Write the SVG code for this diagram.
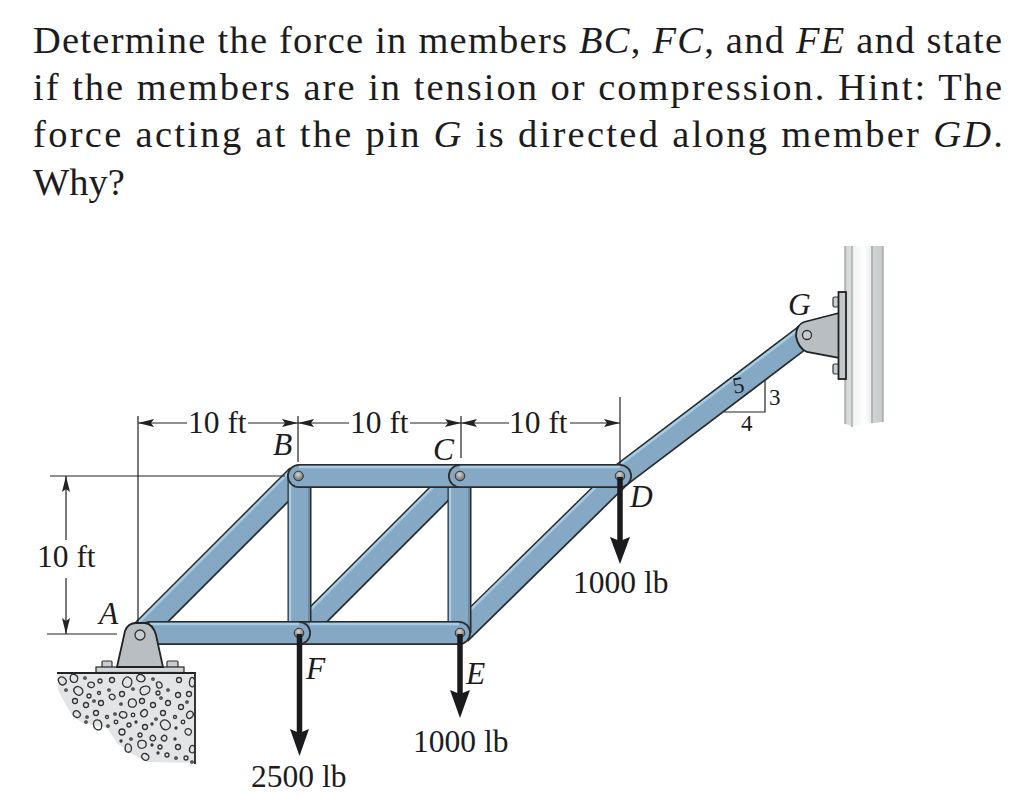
<svg xmlns="http://www.w3.org/2000/svg" width="1030" height="798" viewBox="0 0 1030 798">
<style>
text{font-family:"Liberation Serif","Times New Roman",serif;fill:#1c1c20}
.p{font-size:38.500px}
.l{font-size:31.500px}
.i{font-style:italic}
.n{font-size:23px}
.m{fill:none;stroke:#2b2b2d;stroke-width:24}
.b{fill:none;stroke:#85a9c4;stroke-width:20.5}
.h{fill:none;stroke:#a6cde6;stroke-width:2.5}
.s{fill:none;stroke:#6c8aa2;stroke-width:2}
.r{stroke-linecap:round}
.d{fill:none;stroke:#222;stroke-width:1.2}
.a{fill:#222}
.f{fill:none;stroke:#1b1b1d;stroke-width:5.5}
.k{fill:#1b1b1d}
.g{fill:#b9bec3;stroke:#222;stroke-width:1.8}
.w{fill:#c9cdd0;stroke:#333;stroke-width:1.2}
.pin{fill:url(#pg);stroke:#333;stroke-width:1}
.hole{fill:#c8ccd0;stroke:#333;stroke-width:1.3}
#blob{vector-effect:non-scaling-stroke}
</style>
<defs>
<radialGradient id="pg" cx="0.45" cy="0.35" r="0.7"><stop offset="0" stop-color="#d5d5d5"/><stop offset="1" stop-color="#5d5f62"/></radialGradient>
<linearGradient id="col" x1="0" x2="1" y1="0" y2="0">
<stop offset="0" stop-color="#cfd2d3"/><stop offset="0.18" stop-color="#dfe1e1"/><stop offset="0.2" stop-color="#f0f1f1"/><stop offset="0.5" stop-color="#fff"/><stop offset="0.68" stop-color="#eceded"/><stop offset="0.7" stop-color="#d2d5d6"/><stop offset="1" stop-color="#c6c9ca"/>
</linearGradient>
<marker id="ar" viewBox="0 0 16 8" refX="16" refY="4" markerWidth="16" markerHeight="8" markerUnits="userSpaceOnUse" orient="auto-start-reverse"><path d="M0 0L16 4L0 8L3 4Z" class="a"/></marker>
<path id="blob" vector-effect="non-scaling-stroke" d="M-0.9 -0.2C-0.8 -0.9 -0.1 -1.1 0.4 -0.9C1 -0.7 1.1 -0.1 0.8 0.5C0.5 1 0 0.9 -0.4 0.7C-0.8 0.5 -1 0.2 -0.9 -0.2Z"/>
</defs>

<g id="problem-text">
<text class="p" x="33" y="53" textLength="969" lengthAdjust="spacing">Determine the force in members <tspan class="i">BC</tspan>, <tspan class="i">FC</tspan>, and <tspan class="i">FE</tspan> and state</text>
<text class="p" x="33" y="100" textLength="969" lengthAdjust="spacing">if the members are in tension or compression. Hint: The</text>
<text class="p" x="33" y="147" textLength="970" lengthAdjust="spacing">force acting at the pin <tspan class="i">G</tspan> is directed along member <tspan class="i">GD</tspan>.</text>
<text class="p" x="33" y="195">Why?</text>
</g>

<g id="column">
<path d="M845 246H883V422Q864 424 852 427Q848 424 845 424Z" fill="url(#col)"/>
<path d="M845 246V424M852 246V427M872 246V423M883 246V422" fill="none" stroke="#9a9d9f" stroke-width="1.2"/>
</g>

<g id="ground">
<path d="M57 673H195V763L147 762L130 753L117 743L107 728L83 723L73 717L65 703L58 690Z" fill="#e3e4e5"/>
<path d="M57 673H195V764" fill="none" stroke="#222" stroke-width="1.8"/>
<g fill="none" stroke="#333" stroke-width="1.3">
<use href="#blob" transform="translate(62 681) rotate(40) scale(4.500 4)"/><use href="#blob" transform="translate(74 678) rotate(170) scale(4 4.500)"/><use href="#blob" transform="translate(91 685) scale(3.500 3)"/><use href="#blob" transform="translate(127 682) rotate(100) scale(5.500 5)"/><use href="#blob" transform="translate(141 678) rotate(200) scale(4.500 4)"/><use href="#blob" transform="translate(159 685) rotate(60) scale(3.500 3)"/><use href="#blob" transform="translate(192 682) rotate(90) scale(5 3)"/>
<use href="#blob" transform="translate(78 691) rotate(30) scale(5 4.500)"/><use href="#blob" transform="translate(145 690) rotate(150) scale(5.500 4.500)"/><use href="#blob" transform="translate(132 703) rotate(70) scale(4.500 4.500)"/><use href="#blob" transform="translate(112 697) rotate(20) scale(3.200 3)"/>
<use href="#blob" transform="translate(77 714) rotate(210) scale(4 3.500)"/><use href="#blob" transform="translate(123 715) rotate(10) scale(4 3.500)"/><use href="#blob" transform="translate(144 713) rotate(120) scale(4 3.500)"/><use href="#blob" transform="translate(190 715) rotate(300) scale(4 3.500)"/>
<use href="#blob" transform="translate(98 725) rotate(250) scale(5.500 4.500)"/><use href="#blob" transform="translate(165 725) rotate(40) scale(5.500 5)"/><use href="#blob" transform="translate(142 744) rotate(160) scale(4.500 4.500)"/><use href="#blob" transform="translate(128 748) rotate(80) scale(4.500 3.500)"/><use href="#blob" transform="translate(145 757) rotate(30) scale(4 3.500)"/><use href="#blob" transform="translate(192 749) rotate(90) scale(4 3)"/><use href="#blob" transform="translate(188 732) rotate(15) scale(3.500 3.500)"/><use href="#blob" transform="translate(164 738) rotate(110) scale(3 3)"/><use href="#blob" transform="translate(153 738) rotate(200) scale(3 3)"/>
<circle cx="85" cy="678" r="1.200"/><circle cx="100" cy="681" r="2"/><circle cx="112" cy="680" r="2.500"/><circle cx="153" cy="679" r="1.200"/><circle cx="179" cy="680" r="2.500"/>
<circle cx="66" cy="690" r="1.200"/><circle cx="89" cy="696" r="2"/><circle cx="99" cy="693" r="1.500"/><circle cx="109" cy="690" r="1.200"/><circle cx="122" cy="694" r="2.500"/><circle cx="133" cy="689" r="1.200"/><circle cx="158" cy="693" r="2"/><circle cx="168" cy="690" r="1.200"/><circle cx="178" cy="695" r="2.500"/><circle cx="189" cy="694" r="2.500"/>
<circle cx="75" cy="701" r="2.500"/><circle cx="86" cy="705" r="2.500"/><circle cx="94" cy="701" r="1.200"/><circle cx="101" cy="703" r="2.500"/><circle cx="121" cy="704" r="1.200"/><circle cx="142" cy="701" r="2.500"/><circle cx="153" cy="705" r="2.500"/><circle cx="161" cy="698" r="1.200"/><circle cx="168" cy="703" r="2.500"/><circle cx="181" cy="707" r="2.500"/><circle cx="187" cy="702" r="1.200"/>
<circle cx="87" cy="717" r="1.200"/><circle cx="96" cy="713" r="2.500"/><circle cx="107" cy="717" r="1.500"/><circle cx="115" cy="714" r="1.200"/><circle cx="133" cy="715" r="1.800"/><circle cx="156" cy="719" r="1.200"/><circle cx="163" cy="713" r="2.500"/><circle cx="175" cy="717" r="1.500"/>
<circle cx="86" cy="722" r="1.200"/><circle cx="108" cy="726" r="1.200"/><circle cx="116" cy="722" r="1.800"/><circle cx="129" cy="725" r="2"/><circle cx="136" cy="722" r="1"/><circle cx="145" cy="727" r="2.500"/><circle cx="152" cy="724" r="1"/><circle cx="183" cy="722" r="1.800"/><circle cx="176" cy="728" r="1"/>
<circle cx="122" cy="732" r="3"/><circle cx="140" cy="735" r="2"/><circle cx="175" cy="739" r="1"/>
<circle cx="121" cy="741" r="1"/><circle cx="131" cy="739" r="1.200"/><circle cx="152" cy="745" r="1"/><circle cx="160" cy="747" r="2"/><circle cx="178" cy="747" r="2.500"/>
<circle cx="158" cy="753" r="1"/><circle cx="167" cy="755" r="2"/><circle cx="176" cy="758" r="1.200"/><circle cx="186" cy="758" r="2"/><circle cx="192" cy="762" r="1.200"/>
</g>
</g>

<g id="connectors">
<g id="member-DG"><path class="m" d="M620 476L806 335"/><path class="b" d="M620 476L806 335"/><path class="h" d="M614.600 468.800L800.600 327.800"/></g>
<g id="member-AB"><path class="m" d="M140 634L298 476"/><path class="b" d="M140 634L298 476"/><path class="h" d="M136 625L290 471"/></g>
<g id="member-FC"><path class="m" d="M300 633L460 473"/><path class="b" d="M300 633L460 473"/><path class="h" d="M296 624L452 468"/></g>
<g id="member-ED"><path class="m" d="M460 633L620 476"/><path class="b" d="M460 633L620 476"/><path class="h" d="M456 624L612 471"/></g>
<g id="member-BF"><path class="m" d="M299.500 476V633"/><path class="b" d="M299.500 476V633"/><path class="h" d="M290 476V633"/><path class="s" d="M309 476V633"/></g>
<g id="member-CE"><path class="m" d="M459.500 476V633"/><path class="b" d="M459.500 476V633"/><path class="h" d="M450 476V633"/><path class="s" d="M469 476V633"/></g>
<g id="member-FE"><path class="m r" d="M300 633H459"/><path class="b r" d="M300 633H459"/><path class="h" d="M310 624H459"/></g>
<g id="member-AF"><path class="m r" d="M150 633H299"/><path class="b r" d="M150 633H299"/><path class="h" d="M150 624H299"/></g>
<g id="member-BC"><path class="m r" d="M299 476H459"/><path class="b r" d="M299 476H459"/><path class="h" d="M299 467H459"/></g>
<g id="member-CD"><path class="m r" d="M460 476H620"/><path class="b r" d="M460 476H620"/><path class="h" d="M460 467H620"/></g>
<g id="dimensions">
<path class="d" d="M138 416V625M298 416V462M461 416V458M620 397V465M50 476H285M47 634H117"/>
<path class="d" marker-start="url(#ar)" d="M138 423H187"/>
<path class="d" marker-end="url(#ar)" d="M248 423H298"/>
<path class="d" marker-start="url(#ar)" d="M298 423H349"/>
<path class="d" marker-end="url(#ar)" d="M410 423H461"/>
<path class="d" marker-start="url(#ar)" d="M461 423H509"/>
<path class="d" marker-end="url(#ar)" d="M570 423H620"/>
<path class="d" marker-start="url(#ar)" d="M66 476V540"/>
<path class="d" marker-end="url(#ar)" d="M66 578V634"/>
<path class="d" d="M724 412H765V380"/>
</g>
</g>

<g id="node-G">
<rect class="w" x="833" y="297" width="6" height="10" rx="1.500"/><rect class="w" x="833" y="364" width="6" height="10" rx="1.500"/>
<path class="g" d="M839 313L804 322Q796 325 796 336Q798 348 807 352L839 358Z"/>
<rect x="838.500" y="292" width="7.500" height="87" fill="#c3c8cb" stroke="#222" stroke-width="1.800"/>
<circle class="hole" cx="807" cy="335" r="4.500"/>
<text class="l i" x="788" y="315">G</text>
</g>
<g id="node-A">
<rect class="w" x="102" y="661" width="10" height="7" rx="1"/><rect class="w" x="167" y="661" width="11" height="7" rx="1"/>
<rect x="96" y="667" width="88" height="5.500" fill="#d3d6d8" stroke="#222" stroke-width="1.200"/>
<path class="g" d="M117 667L125 631Q128 623 136 623H145Q153 624 156 635L163 667Z"/>
<circle class="hole" cx="140" cy="635" r="5"/>
<text class="l i" x="99" y="624">A</text>
</g>
<g id="node-B"><circle class="pin" cx="298.500" cy="476" r="4.800"/><text class="l i" x="273" y="455">B</text></g>
<g id="node-C"><circle class="pin" cx="460" cy="476" r="4.800"/><text class="l i" x="433" y="460">C</text></g>
<g id="node-D"><text class="l i" x="630" y="507">D</text></g>

<g id="load-F"><circle class="pin" cx="299" cy="633" r="4.800"/><path class="f" d="M299.500 634V735"/><path class="k" d="M290 729L299.500 733L309 729L299.500 756Z"/><text class="l i" x="306" y="679">F</text><text class="l" x="251" y="787">2500 lb</text></g>
<g id="load-E"><circle class="pin" cx="460" cy="633" r="4.800"/><path class="f" d="M460 634V697"/><path class="k" d="M450 690L460 694L470 690L460 718Z"/><text class="l i" x="466" y="684">E</text><text class="l" x="413" y="752">1000 lb</text></g>
<g id="load-D"><circle class="pin" cx="620" cy="476" r="4.800"/><path class="f" d="M620 477V542"/><path class="k" d="M610 537L620 541L630 537L620 564Z"/><text class="l" x="573" y="593">1000 lb</text></g>

<g id="labels">
<text class="l" x="188" y="433">10 ft</text>
<text class="l" x="350" y="433">10 ft</text>
<text class="l" x="509" y="433">10 ft</text>
<text class="l" x="37" y="567">10 ft</text>
<text class="n" x="733" y="393" transform="rotate(-10 738 387)">5</text>
<text class="n" x="769" y="405">3</text>
<text class="n" x="741" y="431">4</text>
</g>
</svg>
